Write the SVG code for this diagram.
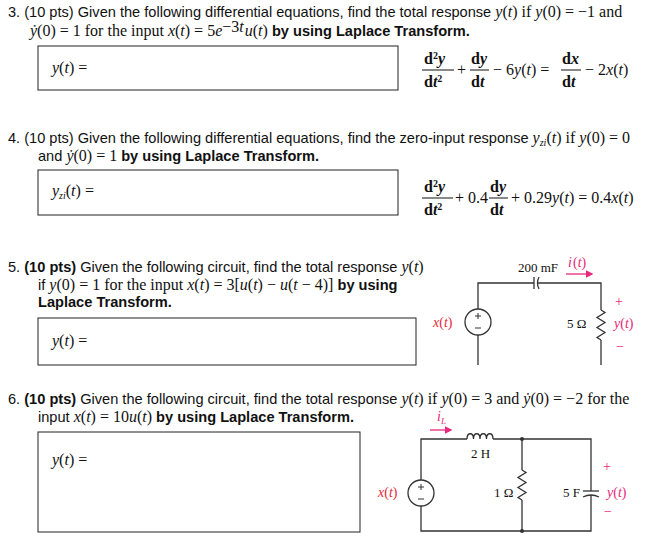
<svg xmlns="http://www.w3.org/2000/svg" width="668" height="544" viewBox="0 0 668 544">
<style>
text{font-family:"Liberation Sans",Arial,sans-serif;font-size:14.6px;fill:#111}
.m{font-family:"Liberation Serif","Times New Roman",serif;font-size:16px}
.b{font-weight:bold}
.r{font-family:"Liberation Serif",serif;fill:#e8283a;font-size:14px}
.p{fill:#e8287a;font-family:"Liberation Serif",serif;font-size:14px}
.k{font-family:"Liberation Serif",serif;font-size:13px}
.box{fill:#fff;stroke:#222;stroke-width:1}
.w{fill:none;stroke:#333;stroke-width:1.3}
.ar{stroke:#e8287a;stroke-width:1.3;fill:none}
</style>
<defs><marker id="ah" markerWidth="6" markerHeight="6" refX="5" refY="3" orient="auto"><path d="M0,0L6,3L0,6z" fill="#e8287a"/></marker></defs>
<g id="q3">
<text x="8" y="17">3.  (10 pts)  Given the following differential equations, find the total response <tspan class="m" font-style="italic">y</tspan><tspan class="m">(</tspan><tspan class="m" font-style="italic">t</tspan><tspan class="m">) if </tspan><tspan class="m" font-style="italic">y</tspan><tspan class="m">(0) = −1 and</tspan></text>
<text x="30" y="36"><tspan class="m" font-style="italic">ẏ</tspan><tspan class="m">(0) = 1 for the input </tspan><tspan class="m" font-style="italic">x</tspan><tspan class="m">(</tspan><tspan class="m" font-style="italic">t</tspan><tspan class="m">) = 5</tspan><tspan class="m" font-style="italic">e</tspan><tspan class="m" font-size="9" dy="-4">−3</tspan><tspan class="m" font-size="9" font-style="italic">t</tspan><tspan class="m" font-style="italic" dy="4" dx="1">u</tspan><tspan class="m">(</tspan><tspan class="m" font-style="italic">t</tspan><tspan class="m">)</tspan><tspan class="b">  by using Laplace Transform.</tspan></text>
<rect class="box" x="38" y="46" width="360" height="44"/>
<text class="m" x="52" y="73"><tspan font-style="italic">y</tspan>(<tspan font-style="italic">t</tspan>) =</text>
<text class="m" x="424" y="64" font-weight="bold">d<tspan font-size="10" dy="-5">2</tspan><tspan font-style="italic" dy="5">y</tspan></text><line x1="422" y1="70" x2="454" y2="70" stroke="#111"/><text class="m" x="424" y="87" font-weight="bold">d<tspan font-style="italic">t</tspan><tspan font-size="10" dy="-5">2</tspan></text>
<text class="m" x="457" y="75">+</text>
<text class="m" x="471" y="64" font-weight="bold">d<tspan font-style="italic">y</tspan></text><line x1="470" y1="70" x2="489" y2="70" stroke="#111"/><text class="m" x="471" y="87" font-weight="bold">d<tspan font-style="italic">t</tspan></text>
<text class="m" x="493" y="75">− 6<tspan font-style="italic">y</tspan>(<tspan font-style="italic">t</tspan>) =</text>
<text class="m" x="562" y="64" font-weight="bold">d<tspan font-style="italic">x</tspan></text><line x1="561" y1="70" x2="581" y2="70" stroke="#111"/><text class="m" x="562" y="87" font-weight="bold">d<tspan font-style="italic">t</tspan></text>
<text class="m" x="585" y="75">− 2<tspan font-style="italic">x</tspan>(<tspan font-style="italic">t</tspan>)</text>
</g>
<g id="q4">
<text x="8" y="143">4.  (10 pts)  Given the following differential equations, find the zero-input response <tspan class="m" font-style="italic">y<tspan font-size="10" dy="3">zi</tspan></tspan><tspan class="m" dy="-3">(</tspan><tspan class="m" font-style="italic">t</tspan><tspan class="m">) if </tspan><tspan class="m" font-style="italic">y</tspan><tspan class="m">(0) = 0</tspan></text>
<text x="38" y="161">and <tspan class="m" font-style="italic">ẏ</tspan><tspan class="m">(0) = 1 </tspan><tspan class="b">by using Laplace Transform.</tspan></text>
<rect class="box" x="38" y="170" width="360" height="45"/>
<text class="m" x="52" y="196"><tspan font-style="italic">y<tspan font-size="10" dy="3">zi</tspan></tspan><tspan dy="-3">(</tspan><tspan font-style="italic">t</tspan>) =</text>
<text class="m" x="424" y="192" font-weight="bold">d<tspan font-size="10" dy="-5">2</tspan><tspan font-style="italic" dy="5">y</tspan></text><line x1="422" y1="198" x2="453" y2="198" stroke="#111"/><text class="m" x="424" y="215" font-weight="bold">d<tspan font-style="italic">t</tspan><tspan font-size="10" dy="-5">2</tspan></text>
<text class="m" x="455" y="203">+ 0.4</text>
<text class="m" x="490" y="192" font-weight="bold">d<tspan font-style="italic">y</tspan></text><line x1="489" y1="198" x2="508" y2="198" stroke="#111"/><text class="m" x="490" y="215" font-weight="bold">d<tspan font-style="italic">t</tspan></text>
<text class="m" x="511" y="203">+ 0.29<tspan font-style="italic">y</tspan>(<tspan font-style="italic">t</tspan>) = 0.4<tspan font-style="italic">x</tspan>(<tspan font-style="italic">t</tspan>)</text>
</g>
<g id="q5">
<text x="8" y="272">5.  <tspan class="b">(10 pts)</tspan> Given the following circuit, find the total response <tspan class="m" font-style="italic">y</tspan><tspan class="m">(</tspan><tspan class="m" font-style="italic">t</tspan><tspan class="m">)</tspan></text>
<text x="38" y="290">if <tspan class="m" font-style="italic">y</tspan><tspan class="m">(0) = 1 for the input </tspan><tspan class="m" font-style="italic">x</tspan><tspan class="m">(</tspan><tspan class="m" font-style="italic">t</tspan><tspan class="m">) = 3[</tspan><tspan class="m" font-style="italic">u</tspan><tspan class="m">(</tspan><tspan class="m" font-style="italic">t</tspan><tspan class="m">) − </tspan><tspan class="m" font-style="italic">u</tspan><tspan class="m">(</tspan><tspan class="m" font-style="italic">t</tspan><tspan class="m"> − 4)]</tspan><tspan class="b">  by using</tspan></text>
<text x="38" y="307" class="b">Laplace Transform.</text>
<rect class="box" x="38" y="318" width="378" height="47"/>
<text class="m" x="52" y="346"><tspan font-style="italic">y</tspan>(<tspan font-style="italic">t</tspan>) =</text>
</g>
<g id="circuit1">
<path class="w" d="M478,309V283H534M538,283H601V310M601,340V365M478,335V365"/>
<line x1="534" y1="277" x2="534" y2="289" stroke="#333" stroke-width="1.3"/>
<path class="w" d="M539,277Q536,283 539,289"/>
<path class="w" d="M601,310l4,2.5l-8,5l8,5l-8,5l8,5l-8,5l4,2.5"/>
<circle cx="478" cy="322" r="13" fill="#fff" stroke="#333" stroke-width="1.3"/>
<path d="M475,316h6M478,313v6M475,328h6" stroke="#333" stroke-width="1"/>
<text class="k" x="518" y="272">200 mF</text>
<text class="p" x="568" y="267" font-style="italic">i</text><text class="p" x="573" y="267">(<tspan font-style="italic">t</tspan>)</text>
<line class="ar" x1="566" y1="274" x2="592" y2="274" marker-end="url(#ah)"/>
<text class="r" x="433" y="327" font-style="italic">x<tspan font-style="normal">(</tspan>t<tspan font-style="normal">)</tspan></text>
<text class="k" x="567" y="328">5 Ω</text>
<text class="p" x="614" y="328" font-style="italic">y<tspan font-style="normal">(</tspan>t<tspan font-style="normal">)</tspan></text>
<text class="p" x="615" y="306">+</text><text class="p" x="616" y="351">−</text>
</g>
<g id="q6">
<text x="8" y="404">6.  <tspan class="b">(10 pts)</tspan> Given the following circuit, find the total response <tspan class="m" font-style="italic">y</tspan><tspan class="m">(</tspan><tspan class="m" font-style="italic">t</tspan><tspan class="m">) if </tspan><tspan class="m" font-style="italic">y</tspan><tspan class="m">(0) = 3 and </tspan><tspan class="m" font-style="italic">ẏ</tspan><tspan class="m">(0) = −2 for the</tspan></text>
<text x="38" y="422">input <tspan class="m" font-style="italic">x</tspan><tspan class="m">(</tspan><tspan class="m" font-style="italic">t</tspan><tspan class="m">) = 10</tspan><tspan class="m" font-style="italic">u</tspan><tspan class="m">(</tspan><tspan class="m" font-style="italic">t</tspan><tspan class="m">)</tspan><tspan class="b">  by using Laplace Transform.</tspan></text>
<rect class="box" x="38" y="432" width="322" height="100"/>
<text class="m" x="52" y="465"><tspan font-style="italic">y</tspan>(<tspan font-style="italic">t</tspan>) =</text>
</g>
<g id="circuit2">
<path class="w" d="M421,480V439H467M493,439H591V491M591,495V531H421V506M522,439V470M522,500V531"/>
<path class="w" d="M467,439c0,-7 6.5,-7 6.5,0c0,-7 6.5,-7 6.5,0c0,-7 6.5,-7 6.5,0c0,-7 6.5,-7 6.5,0"/>
<path class="w" d="M522,470l4,2.5l-8,5l8,5l-8,5l8,5l-8,5l4,2.5"/>
<line x1="583" y1="491" x2="599" y2="491" stroke="#333" stroke-width="1.3"/>
<path class="w" d="M583,497Q591,493 599,497"/>
<circle cx="522" cy="439" r="2" fill="#333"/><circle cx="522" cy="531" r="2" fill="#333"/>
<circle cx="421" cy="493" r="13" fill="#fff" stroke="#333" stroke-width="1.3"/>
<path d="M418,487h6M421,484v6M418,499h6" stroke="#333" stroke-width="1"/>
<text class="p" x="437" y="421" font-style="italic">i<tspan font-size="9" dy="3">L</tspan></text>
<line class="ar" x1="430" y1="430" x2="451" y2="430" marker-end="url(#ah)"/>
<text class="k" x="471" y="458">2 H</text>
<text class="k" x="494" y="497">1 Ω</text>
<text class="k" x="563" y="497">5 F</text>
<text class="r" x="378" y="497" font-style="italic">x<tspan font-style="normal">(</tspan>t<tspan font-style="normal">)</tspan></text>
<text class="p" x="607" y="497" font-style="italic">y<tspan font-style="normal">(</tspan>t<tspan font-style="normal">)</tspan></text>
<text class="p" x="603" y="471">+</text><text class="p" x="604" y="516">−</text>
</g>
</svg>
